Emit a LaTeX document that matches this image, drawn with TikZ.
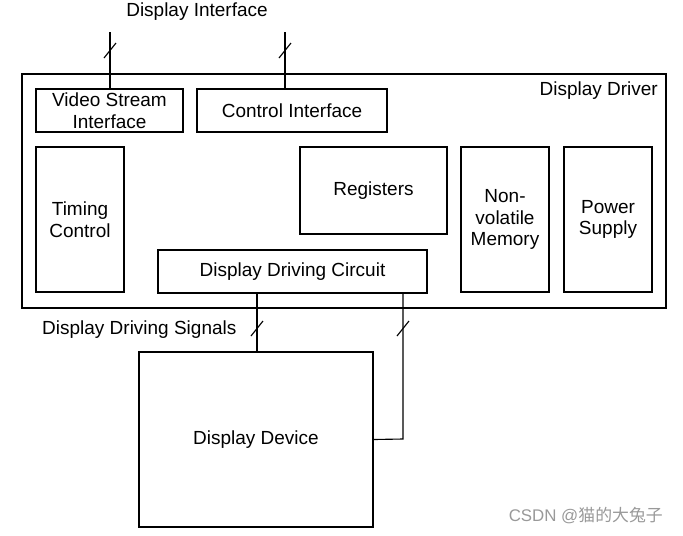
\documentclass[tikz,border=0pt]{standalone}
\usepackage{fontspec}
\setmainfont{Liberation Sans}
\newfontfamily\cjk{Noto Sans CJK SC}
\usetikzlibrary{positioning}

\begin{document}
\begin{tikzpicture}[x=0.025cm,y=-0.025cm,thick,
    font=\fontsize{13.5}{15.5}\selectfont,
    blk/.style={draw,inner sep=0,align=center}]
  \useasboundingbox (0,0) rectangle (683,535);
  % driver frame
  \draw (22,74) rectangle (666,308);
  \node[anchor=east] (drv) at (663,91) {Display Driver};
  % blocks inside the driver
  \node[blk,minimum width=147*0.025cm,minimum height=43*0.025cm] (vsi) at (109.5,110.5) {Video Stream\\Interface};
  \node[blk,minimum width=190*0.025cm,minimum height=43*0.025cm] (ci)  at (292,110.5) {Control Interface};
  \node[blk,minimum width=88*0.025cm,minimum height=145*0.025cm]  (tc)  at (80,219.5) {Timing\\Control};
  \node[blk,minimum width=147*0.025cm,minimum height=87*0.025cm]  (reg) at (373.5,190.5) {Registers};
  \node[blk,minimum width=88*0.025cm,minimum height=145*0.025cm]  (nvm) at (505,219.5) {Non-\\volatile\\Memory};
  \node[blk,minimum width=88*0.025cm,minimum height=145*0.025cm]  (ps)  at (608,219.5) {Power\\Supply};
  \node[blk,minimum width=269*0.025cm,minimum height=43*0.025cm] (ddc) at (292.5,271.5) {Display Driving Circuit};
  % display device
  \node[blk,minimum width=234*0.025cm,minimum height=175*0.025cm] (dev) at (256,439.5) {Display Device};
  % interface buses
  \node (di) at (197,12) {Display Interface};
  \coordinate (vtop) at (110,32);
  \coordinate (ctop) at (285,32);
  \draw (vtop) -- (vtop |- vsi.north);
  \draw (ctop) -- (ctop |- ci.north);
  \draw (104,58) -- (116,43);
  \draw (279,58) -- (291,43);
  % driving signals
  \node[anchor=west] (dds) at (37,330) {Display Driving Signals};
  \coordinate (s1) at (257,293);
  \coordinate (s2) at (403,293);
  \draw (s1) -- (s1 |- dev.north);
  \draw (s2) -- (403,439) -- (dev.east);
  \draw (251,336) -- (263,321);
  \draw (397,336) -- (409,321);
  % watermark
  \node[anchor=east,text=gray!80,font=\fontsize{12}{14}\selectfont] (wm) at (668,516) {CSDN @{\cjk 猫的大兔子}};
\end{tikzpicture}
\end{document}
